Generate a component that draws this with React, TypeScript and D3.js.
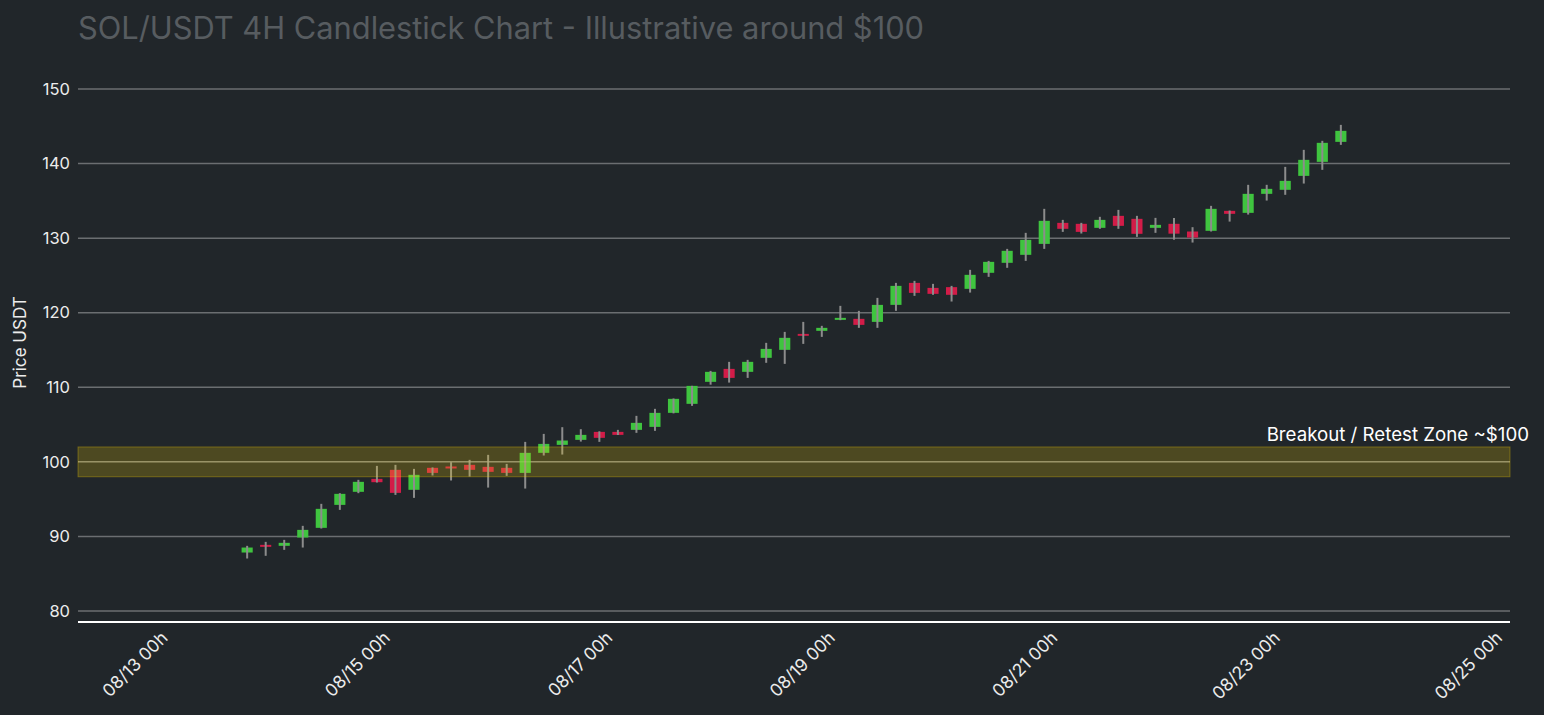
import { useEffect, useRef } from 'react';
import * as d3 from 'd3';

// 4H candles, first bar 2024-08-13 18:00
const startTime = new Date(2024, 7, 13, 18, 0);
const stepHours = 4;

const opens = [
  87.84, 88.87, 88.74, 89.85, 91.15, 94.23, 95.98, 97.72, 98.93, 96.25,
  99.2, 99.38, 99.6, 99.33, 99.2, 98.52, 101.21, 102.28, 102.95, 104.02,
  104.02, 104.29, 104.69, 106.57, 107.78, 110.73, 112.47, 112.07, 113.95, 115.02,
  117.16, 117.57, 119.04, 119.18, 118.77, 121.05, 124.0, 123.33, 123.43, 123.2,
  125.35, 126.69, 127.76, 129.23, 132.05, 131.92, 131.38, 132.99, 132.59, 131.38,
  131.92, 130.89, 130.98, 133.66, 133.39, 135.94, 136.48, 138.35, 140.23, 142.91,
];
const highs = [
  88.74, 89.27, 89.54, 91.42, 94.37, 95.8, 97.59, 99.46, 99.6, 99.06,
  99.25, 99.96, 100.27, 100.94, 99.73, 102.68, 103.75, 104.65, 104.38, 104.1,
  104.29, 106.17, 107.11, 108.5, 110.2, 112.2, 113.41, 113.68, 115.96, 117.43,
  118.77, 118.24, 120.92, 120.25, 121.99, 124.0, 124.27, 123.87, 123.6, 125.75,
  126.95, 128.56, 130.71, 133.93, 132.45, 132.05, 132.86, 133.79, 132.99, 132.72,
  132.7, 131.47, 134.33, 133.7, 137.15, 137.15, 139.56, 141.84, 143.05, 145.19,
];
const lows = [
  87.04, 87.4, 88.2, 88.51, 91.06, 93.56, 95.8, 97.23, 95.57, 95.17,
  98.17, 97.5, 98.03, 96.55, 98.12, 96.42, 100.85, 100.98, 102.72, 102.68,
  103.6, 103.89, 104.16, 106.5, 107.51, 110.35, 110.63, 111.26, 113.28, 113.14,
  115.82, 116.76, 119.0, 117.97, 117.97, 120.25, 122.26, 122.4, 121.5, 122.7,
  124.81, 126.02, 126.95, 128.56, 130.84, 130.62, 131.25, 131.25, 130.17, 130.71,
  129.79, 129.41, 130.89, 132.22, 133.16, 135.04, 135.81, 137.32, 139.16, 142.51,
];
const closes = [
  88.51, 88.6, 89.14, 90.88, 93.7, 95.71, 97.32, 97.27, 95.84, 98.26,
  98.52, 99.11, 98.93, 98.66, 98.52, 101.21, 102.41, 102.86, 103.62, 103.22,
  103.62, 105.23, 106.57, 108.45, 110.19, 112.07, 111.26, 113.41, 115.15, 116.63,
  116.9, 117.97, 119.31, 118.37, 121.05, 123.6, 122.66, 122.53, 122.4, 125.08,
  126.82, 128.3, 129.77, 132.32, 131.25, 130.84, 132.45, 131.65, 130.58, 131.78,
  130.6, 130.08, 133.93, 133.26, 135.94, 136.61, 137.68, 140.5, 142.78, 144.39,
];

const yTicks = [80, 90, 100, 110, 120, 130, 140, 150];
const xTickDays = [13, 15, 17, 19, 21, 23, 25];
const zoneLow = 98;
const zoneHigh = 102;
const zoneMid = 100;

const titleText = 'SOL/USDT 4H Candlestick Chart - Illustrative around $100';
const zoneLabel = 'Breakout / Retest Zone ~$100';
const yTitle = 'Price USDT';

interface Candle {
  t: Date;
  o: number;
  h: number;
  l: number;
  c: number;
}

const HOUR = 3600 * 1000;

const CandlestickChart = () => {
  const svgRef = useRef<SVGSVGElement>(null);
  const width = 1544;
  const height = 715;
  const margin = { top: 89, right: 34, bottom: 93, left: 78 };
  const font = 'Inter, "Open Sans", sans-serif';

  useEffect(() => {
    if (!svgRef.current) return;
    document.body.style.margin = '0';

    const data: Candle[] = opens.map((o, i) => ({
      t: new Date(startTime.getTime() + i * stepHours * HOUR),
      o,
      h: highs[i],
      l: lows[i],
      c: closes[i],
    }));

    const svg = d3.select(svgRef.current);
    svg.selectAll('*').remove();

    svg.append('rect')
      .attr('width', width)
      .attr('height', height)
      .attr('fill', '#21262a');

    const x0 = margin.left;
    const x1 = width - margin.right;

    // padding of ~36.5h either side of the candles
    const pad = 36.5 * HOUR;
    const xScale = d3.scaleTime()
      .domain([
        new Date(data[0].t.getTime() - pad),
        new Date(data[data.length - 1].t.getTime() + pad),
      ])
      .range([x0, x1]);

    const yScale = d3.scaleLinear()
      .domain([80, 150])
      .range([611, 89]);

    const axisY = yScale(78.52);

    // title
    svg.append('text')
      .attr('x', x0)
      .attr('y', 39)
      .attr('font-family', font)
      .attr('font-size', 30.8)
      .attr('fill', '#575c60')
      .text(titleText);

    // gridlines
    svg.append('g')
      .selectAll('line')
      .data(yTicks)
      .enter().append('line')
      .attr('x1', x0)
      .attr('x2', x1)
      .attr('y1', d => yScale(d))
      .attr('y2', d => yScale(d))
      .attr('stroke', '#6b6e71')
      .attr('stroke-width', 1.5);

    // y tick labels
    svg.append('g')
      .selectAll('text')
      .data(yTicks)
      .enter().append('text')
      .attr('x', x0 - 8)
      .attr('y', d => yScale(d))
      .attr('dy', '0.35em')
      .attr('text-anchor', 'end')
      .attr('font-family', font)
      .attr('font-size', 16.5)
      .attr('fill', '#ececec')
      .text(d => d);

    // y title
    svg.append('text')
      .attr('transform', `translate(25.5,${yScale(116)}) rotate(-90)`)
      .attr('text-anchor', 'middle')
      .attr('font-family', font)
      .attr('font-size', 17)
      .attr('fill', '#ececec')
      .text(yTitle);

    // candles
    const step = xScale(new Date(data[0].t.getTime() + stepHours * HOUR)) - xScale(data[0].t);
    const bodyW = step * 0.6;
    const up = '#3fc43f';
    const down = '#d21c48';

    const g = svg.append('g');
    g.selectAll('.body')
      .data(data)
      .enter().append('rect')
      .attr('class', 'body')
      .attr('x', d => xScale(d.t) - bodyW / 2)
      .attr('width', bodyW)
      .attr('y', d => yScale(Math.max(d.o, d.c)))
      .attr('height', d => Math.max(1.5, Math.abs(yScale(d.o) - yScale(d.c))))
      .attr('fill', d => (d.c >= d.o ? up : down));

    g.selectAll('.wick')
      .data(data)
      .enter().append('line')
      .attr('class', 'wick')
      .attr('x1', d => xScale(d.t))
      .attr('x2', d => xScale(d.t))
      .attr('y1', d => yScale(d.h))
      .attr('y2', d => yScale(d.l))
      .attr('stroke', '#8c8c8c')
      .attr('stroke-width', 2);

    // breakout zone
    svg.append('rect')
      .attr('x', x0)
      .attr('width', x1 - x0)
      .attr('y', yScale(zoneHigh))
      .attr('height', yScale(zoneLow) - yScale(zoneHigh))
      .attr('fill', 'rgba(255, 215, 0, 0.2)')
      .attr('stroke', 'rgba(255, 215, 0, 0.3)')
      .attr('stroke-width', 1);

    svg.append('line')
      .attr('x1', x0)
      .attr('x2', x1)
      .attr('y1', yScale(zoneMid))
      .attr('y2', yScale(zoneMid))
      .attr('stroke', 'rgba(255, 240, 180, 0.15)')
      .attr('stroke-width', 1.5);

    svg.append('text')
      .attr('x', 1529)
      .attr('y', yScale(zoneHigh) - 6)
      .attr('text-anchor', 'end')
      .attr('font-family', font)
      .attr('font-size', 18.7)
      .attr('fill', '#ffffff')
      .text(zoneLabel);

    // x axis line
    svg.append('line')
      .attr('x1', x0)
      .attr('x2', x1)
      .attr('y1', axisY)
      .attr('y2', axisY)
      .attr('stroke', '#ffffff')
      .attr('stroke-width', 2);

    // x tick labels
    const fmt = d3.timeFormat('%m/%d %Hh');
    const xTicks = xTickDays.map(d => new Date(2024, 7, d, 0, 0));
    svg.append('g')
      .selectAll('text')
      .data(xTicks)
      .enter().append('text')
      .attr('transform', d => `translate(${xScale(d) + 5},${axisY + 17}) rotate(-45)`)
      .attr('text-anchor', 'end')
      .attr('font-family', font)
      .attr('font-size', 17.5)
      .attr('fill', '#ececec')
      .text(d => fmt(d));
  }, []);

  return (
    <svg ref={svgRef} width={width} height={height} style={{ display: 'block' }} />
  );
};

export default function App() {
  return <CandlestickChart />;
}
